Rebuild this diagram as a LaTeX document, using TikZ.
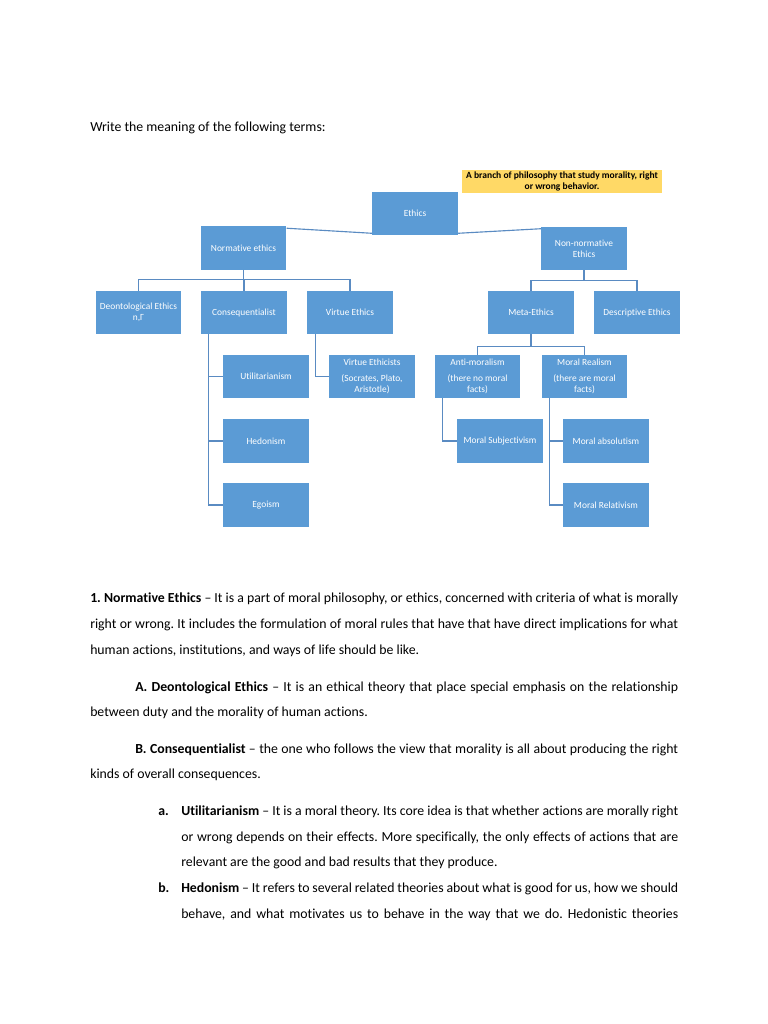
\documentclass[tikz,border=0pt]{standalone}
\usepackage{fontspec}
\setmainfont{Carlito}[Ligatures=NoCommon]
\usetikzlibrary{calc}
\definecolor{boxblue}{HTML}{5B9BD5}
\definecolor{lineblue}{HTML}{5A8BC2}
\definecolor{hlyellow}{HTML}{FFD966}
\frenchspacing
\begin{document}
\begin{tikzpicture}[x=0.797pt,y=-0.797pt,
  box/.style={rectangle, fill=boxblue, text=white, minimum width=68.5pt, minimum height=34.3pt, inner sep=1pt, align=center, font=\fontsize{7.5}{9}\selectfont},
  conn/.style={draw=lineblue, line width=0.9pt},
  body/.style={anchor=base west, inner sep=0pt, font=\fontsize{11}{13}\selectfont},
  note/.style={fill=hlyellow, minimum width=159.4pt, minimum height=18.3pt, inner sep=0pt, align=center, font=\bfseries\fontsize{7.6}{8.6}\selectfont}]
\useasboundingbox (0,0) rectangle (768,1024);
\fill[white] (0,0) rectangle (768,1024);

% heading
\node[body] (head) at (90,131) {Write the meaning of the following terms:};

% note
\node[note] (note) at (562,181.5) {A branch of philosophy that study morality, right\\or wrong behavior.};

% boxes
\node[box] (eth) at (415,213.5) {Ethics};
\node[box] (norm) at (243.5,248) {Normative ethics};
\node[box] (nonn) at (584,248.5) {Non-normative\\Ethics};
\node[box] (deon) at (138.5,312.5) {Deontological Ethics\\n,Γ};
\node[box] (cons) at (244,312.5) {Consequentialist};
\node[box] (virt) at (350,312.5) {Virtue Ethics};
\node[box] (util) at (266,376.5) {Utilitarianism};
\node[box] (hed) at (266,441) {Hedonism};
\node[box] (ego) at (266,505) {Egoism};
\node[box] (vee) at (372,376.5) {Virtue Ethicists\\[3pt](Socrates, Plato,\\Aristotle)};
\node[box] (meta) at (531,312.5) {Meta-Ethics};
\node[box] (desc) at (637,312.5) {Descriptive Ethics};
\node[box] (anti) at (477.5,376.5) {Anti-moralism\\[3pt](there no moral\\facts)};
\node[box] (real) at (584.5,376.5) {Moral Realism\\[3pt](there are moral\\facts)};
\node[box] (subj) at (500,441) {Moral Subjectivism};
\node[box] (abso) at (606,441) {Moral absolutism};
\node[box] (rela) at (606,505) {Moral Relativism};

% connectors
\draw[conn] ($(eth.south west)+(0,-2)$) -- ($(norm.north east)+(0,2)$);
\draw[conn] ($(eth.south east)+(0,-2)$) -- ($(nonn.north west)+(0,2)$);

\coordinate (nb) at ($(norm.south)+(0,10)$);
\draw[conn] (norm.south) -- (nb);
\draw[conn] (nb) -| (deon.north);
\draw[conn] (nb) -| (virt.north);
\draw[conn] (nb) -| (cons.north);

\coordinate (cb) at ($(cons.south west)+(8,0)$);
\draw[conn] (cb) |- (util.west);
\draw[conn] (cb) |- (hed.west);
\draw[conn] (cb) |- (ego.west);

\coordinate (vb) at ($(virt.south west)+(9,0)$);
\draw[conn] (vb) |- (vee.west);

\coordinate (rb) at ($(nonn.south)+(0,10)$);
\draw[conn] (nonn.south) -- (rb);
\draw[conn] (rb) -| (meta.north);
\draw[conn] (rb) -| (desc.north);

\coordinate (mb) at ($(meta.south)+(0,12)$);
\draw[conn] (meta.south) -- (mb);
\draw[conn] (mb) -| (anti.north);
\draw[conn] (mb) -| (real.north);

\coordinate (ab) at ($(anti.south west)+(8,0)$);
\draw[conn] (ab) |- (subj.west);

\coordinate (mrb) at ($(real.south west)+(8,0)$);
\draw[conn] (mrb) |- (abso.west);
\draw[conn] (mrb) |- (rela.west);

% body text
\node[body] (t1) at (90,602) {\makebox[468.6pt][s]{\textbf{1. Normative Ethics} – It is a part of moral philosophy, or ethics, concerned with criteria of what is morally}};
\node[body] (t2) at (90,628) {\makebox[468.6pt][s]{right or wrong. It includes the formulation of moral rules that have that have direct implications for what}};
\node[body] (t3) at (90,654) {human actions, institutions, and ways of life should be like.};

\node[body] (t4) at (135,691) {\makebox[432.7pt][s]{\textbf{A. Deontological Ethics} – It is an ethical theory that place special emphasis on the relationship}};
\node[body] (t5) at (90,716) {between duty and the morality of human actions.};

\node[body] (t6) at (135,753) {\makebox[432.7pt][s]{\textbf{B. Consequentialist} – the one who follows the view that morality is all about producing the right}};
\node[body] (t7) at (90,778) {kinds of overall consequences.};

\node[body] (t8a) at (158,815) {\textbf{a.}};
\node[body] (t8) at (181,815) {\makebox[396.1pt][s]{\textbf{Utilitarianism} – It is a moral theory. Its core idea is that whether actions are morally right}};
\node[body] (t9) at (181,841) {\makebox[396.1pt][s]{or wrong depends on their effects. More specifically, the only effects of actions that are}};
\node[body] (t10) at (181,866) {relevant are the good and bad results that they produce.};

\node[body] (t11a) at (158,892) {\textbf{b.}};
\node[body] (t11) at (181,892) {\makebox[396.1pt][s]{\textbf{Hedonism} – It refers to several related theories about what is good for us, how we should}};
\node[body] (t12) at (181,918) {\makebox[396.1pt][s]{behave, and what motivates us to behave in the way that we do. Hedonistic theories}};
\end{tikzpicture}
\end{document}
